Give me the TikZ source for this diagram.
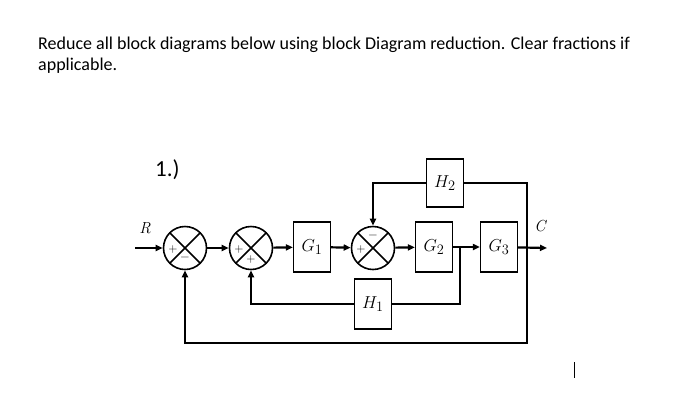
\documentclass[tikz,border=0pt]{standalone}
\usepackage{fontspec}
\setmainfont{Carlito}
\newfontfamily\lm{Latin Modern Roman}
\usetikzlibrary{arrows.meta,calc}
\begin{document}
\begin{tikzpicture}[x=1pt,y=-1pt,
 sum/.style={circle,draw,line width=1.6pt,minimum size=43pt,inner sep=0pt,path picture={\draw[line width=1.6pt] (path picture bounding box.north west)--(path picture bounding box.south east) (path picture bounding box.north east)--(path picture bounding box.south west);}},
 blk/.style={draw,line width=1.2pt,minimum width=37pt,minimum height=50pt,inner sep=0pt,font=\lm\itshape\fontsize{19}{22}\selectfont},
 sg/.style={font=\lm\fontsize{12}{14}\selectfont,inner sep=0pt},
 w/.style={line width=2.2pt},
 a/.style={w,-{Triangle[length=7pt,width=6pt]}}]
\useasboundingbox (0,0) rectangle (693,416);
\node[anchor=west,align=left,font=\fontsize{18}{21}\selectfont,inner sep=0pt] at (38,55) {Reduce all block diagrams below using block Diagram reduction. Clear fractions if\\applicable.};
\node[anchor=west,font=\fontsize{23}{26}\selectfont,inner sep=0pt] at (155,170) {1.)};
\node[sum] (s1) at (185,248) {};
\node[sum] (s2) at (251,248) {};
\node[blk] (g1) at (312,247) {$G_1$};
\node[sum] (s3) at (373,248) {};
\node[blk] (g2) at (434,247) {$G_2$};
\node[blk] (g3) at (499,247) {$G_3$};
\node[blk,minimum height=48pt] (h2) at (445,183) {$H_2$};
\node[blk,minimum height=50pt] (h1) at (373,304) {$H_1$};
\coordinate (in) at (135,248);
\coordinate (out) at (547,248);
\coordinate (b2) at (460,248);
\coordinate (b3) at (527,248);
\node[font=\lm\itshape\fontsize{16}{18}\selectfont] at (145,228) {R};
\node[font=\lm\itshape\fontsize{16}{18}\selectfont] at (540,226) {C};
\node[sg] at ($(s1)+(-12,1)$) {+};
\node[sg] at ($(s1)+(0,11)$) {−};
\node[sg] at ($(s2)+(-12,1)$) {+};
\node[sg] at ($(s2)+(0,11)$) {+};
\node[sg] at ($(s3)+(-12,1)$) {+};
\node[sg] at ($(s3)+(0,-11)$) {−};
\draw[a] (in) -- (s1);
\draw[a] (s1) -- (s2);
\draw[a] (s2) -- (g1);
\draw[a] (g1) -- (s3);
\draw[a] (s3) -- (g2);
\draw[a] (g2) -- (g3);
\draw[a] (g3) -- (out);
\draw[w] (b3) |- (h2.east);
\draw[a] (h2.west) -| (s3);
\draw[w] (b2) |- (h1.east);
\draw[a] (h1.west) -| (s2);
\draw[a] (b3) |- (185,343) -- (s1);
\draw[line width=1pt] (574,362) -- (574,378);
\end{tikzpicture}
\end{document}
